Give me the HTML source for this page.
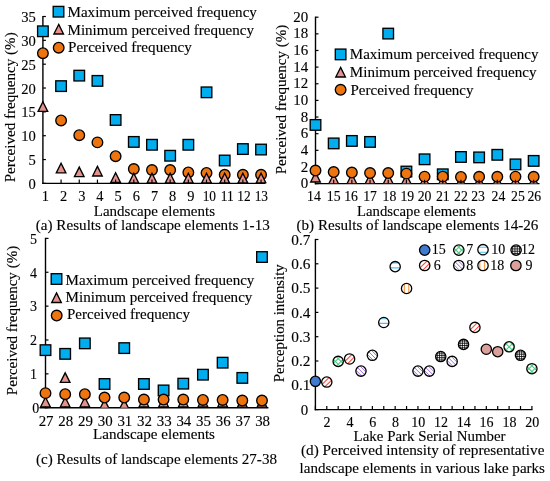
<!DOCTYPE html>
<html><head><meta charset="utf-8"><title>Perceived frequency of landscape elements</title>
<style>html,body{margin:0;padding:0;background:#fff}svg{display:block}text{font-family:"Liberation Serif","Times New Roman",serif;fill:#000;stroke:#000;stroke-width:.12px}</style>
</head><body>
<svg width="550" height="481" viewBox="0 0 550 481">
<rect width="550" height="481" fill="#fff"/>
<clipPath id="ca"><rect x="32.9" y="0" width="242.6" height="183.4"/></clipPath>
<path d="M42.9 15.9L42.9 184.1" stroke="#000" stroke-width="1.4" fill="none"/>
<path d="M42.199999999999996 183.4L265.5 183.4" stroke="#000" stroke-width="1.4" fill="none"/>
<path d="M42.9 183.4L45.9 183.4" stroke="#000" stroke-width="1.2" fill="none"/>
<text x="35.8" y="189.0" font-size="14.6" text-anchor="end">0</text>
<path d="M42.9 159.56L45.9 159.56" stroke="#000" stroke-width="1.2" fill="none"/>
<text x="35.8" y="165.16" font-size="14.6" text-anchor="end">5</text>
<path d="M42.9 135.71L45.9 135.71" stroke="#000" stroke-width="1.2" fill="none"/>
<text x="35.8" y="141.31" font-size="14.6" text-anchor="end">10</text>
<path d="M42.9 111.87L45.9 111.87" stroke="#000" stroke-width="1.2" fill="none"/>
<text x="35.8" y="117.47" font-size="14.6" text-anchor="end">15</text>
<path d="M42.9 88.03L45.9 88.03" stroke="#000" stroke-width="1.2" fill="none"/>
<text x="35.8" y="93.63" font-size="14.6" text-anchor="end">20</text>
<path d="M42.9 64.19L45.9 64.19" stroke="#000" stroke-width="1.2" fill="none"/>
<text x="35.8" y="69.79" font-size="14.6" text-anchor="end">25</text>
<path d="M42.9 40.34L45.9 40.34" stroke="#000" stroke-width="1.2" fill="none"/>
<text x="35.8" y="45.94" font-size="14.6" text-anchor="end">30</text>
<path d="M42.9 16.5L45.9 16.5" stroke="#000" stroke-width="1.2" fill="none"/>
<text x="35.8" y="22.1" font-size="14.6" text-anchor="end">35</text>
<text x="45.4" y="201.3" font-size="14.4" text-anchor="middle">1</text>
<text x="63.58" y="201.3" font-size="14.4" text-anchor="middle">2</text>
<text x="81.76" y="201.3" font-size="14.4" text-anchor="middle">3</text>
<text x="99.94" y="201.3" font-size="14.4" text-anchor="middle">4</text>
<text x="118.12" y="201.3" font-size="14.4" text-anchor="middle">5</text>
<text x="136.3" y="201.3" font-size="14.4" text-anchor="middle">6</text>
<text x="154.48" y="201.3" font-size="14.4" text-anchor="middle">7</text>
<text x="172.66" y="201.3" font-size="14.4" text-anchor="middle">8</text>
<text x="190.84" y="201.3" font-size="14.4" text-anchor="middle">9</text>
<text transform="translate(209.32 201.3) scale(0.93 1)" font-size="14.4" text-anchor="middle">10</text>
<text transform="translate(227.2 201.3) scale(0.93 1)" font-size="14.4" text-anchor="middle">11</text>
<text transform="translate(243.88 201.3) scale(0.93 1)" font-size="14.4" text-anchor="middle">12</text>
<text transform="translate(261.36 201.3) scale(0.93 1)" font-size="14.4" text-anchor="middle">13</text>
<g clip-path="url(#ca)">
<rect x="37.60" y="25.98" width="10.6" height="10.6" fill="#00AEEF" stroke="#000" stroke-width="1.35"/>
<rect x="55.78" y="80.82" width="10.6" height="10.6" fill="#00AEEF" stroke="#000" stroke-width="1.35"/>
<rect x="73.96" y="70.33" width="10.6" height="10.6" fill="#00AEEF" stroke="#000" stroke-width="1.35"/>
<rect x="92.14" y="75.58" width="10.6" height="10.6" fill="#00AEEF" stroke="#000" stroke-width="1.35"/>
<rect x="110.32" y="114.68" width="10.6" height="10.6" fill="#00AEEF" stroke="#000" stroke-width="1.35"/>
<rect x="128.50" y="136.61" width="10.6" height="10.6" fill="#00AEEF" stroke="#000" stroke-width="1.35"/>
<rect x="146.68" y="139.47" width="10.6" height="10.6" fill="#00AEEF" stroke="#000" stroke-width="1.35"/>
<rect x="164.86" y="150.44" width="10.6" height="10.6" fill="#00AEEF" stroke="#000" stroke-width="1.35"/>
<rect x="183.04" y="139.47" width="10.6" height="10.6" fill="#00AEEF" stroke="#000" stroke-width="1.35"/>
<rect x="201.22" y="87.02" width="10.6" height="10.6" fill="#00AEEF" stroke="#000" stroke-width="1.35"/>
<rect x="219.40" y="155.21" width="10.6" height="10.6" fill="#00AEEF" stroke="#000" stroke-width="1.35"/>
<rect x="237.58" y="143.77" width="10.6" height="10.6" fill="#00AEEF" stroke="#000" stroke-width="1.35"/>
<rect x="255.76" y="144.24" width="10.6" height="10.6" fill="#00AEEF" stroke="#000" stroke-width="1.35"/>
<circle cx="42.90" cy="53.22" r="5.3" fill="#EE7410" stroke="#000" stroke-width="1.35"/>
<circle cx="61.08" cy="120.45" r="5.3" fill="#EE7410" stroke="#000" stroke-width="1.35"/>
<circle cx="79.26" cy="135.24" r="5.3" fill="#EE7410" stroke="#000" stroke-width="1.35"/>
<circle cx="97.44" cy="142.39" r="5.3" fill="#EE7410" stroke="#000" stroke-width="1.35"/>
<circle cx="115.62" cy="156.22" r="5.3" fill="#EE7410" stroke="#000" stroke-width="1.35"/>
<circle cx="133.80" cy="169.09" r="5.3" fill="#EE7410" stroke="#000" stroke-width="1.35"/>
<circle cx="151.98" cy="170.05" r="5.3" fill="#EE7410" stroke="#000" stroke-width="1.35"/>
<circle cx="170.16" cy="170.05" r="5.3" fill="#EE7410" stroke="#000" stroke-width="1.35"/>
<circle cx="188.34" cy="172.43" r="5.3" fill="#EE7410" stroke="#000" stroke-width="1.35"/>
<circle cx="206.52" cy="172.91" r="5.3" fill="#EE7410" stroke="#000" stroke-width="1.35"/>
<circle cx="224.70" cy="174.82" r="5.3" fill="#EE7410" stroke="#000" stroke-width="1.35"/>
<circle cx="242.88" cy="174.82" r="5.3" fill="#EE7410" stroke="#000" stroke-width="1.35"/>
<circle cx="261.06" cy="174.82" r="5.3" fill="#EE7410" stroke="#000" stroke-width="1.35"/>
<path d="M42.90 101.75L47.70 111.35H38.10Z" fill="#E5928C" stroke="#000" stroke-width="1.35"/>
<path d="M61.08 163.26L65.88 172.86H56.28Z" fill="#E5928C" stroke="#000" stroke-width="1.35"/>
<path d="M79.26 167.08L84.06 176.68H74.46Z" fill="#E5928C" stroke="#000" stroke-width="1.35"/>
<path d="M97.44 166.36L102.24 175.96H92.64Z" fill="#E5928C" stroke="#000" stroke-width="1.35"/>
<path d="M115.62 172.80L120.42 182.40H110.82Z" fill="#E5928C" stroke="#000" stroke-width="1.35"/>
<path d="M133.80 173.28L138.60 182.88H129.00Z" fill="#E5928C" stroke="#000" stroke-width="1.35"/>
<path d="M151.98 173.28L156.78 182.88H147.18Z" fill="#E5928C" stroke="#000" stroke-width="1.35"/>
<path d="M170.16 173.28L174.96 182.88H165.36Z" fill="#E5928C" stroke="#000" stroke-width="1.35"/>
<path d="M188.34 173.28L193.14 182.88H183.54Z" fill="#E5928C" stroke="#000" stroke-width="1.35"/>
<path d="M206.52 173.28L211.32 182.88H201.72Z" fill="#E5928C" stroke="#000" stroke-width="1.35"/>
<path d="M224.70 173.28L229.50 182.88H219.90Z" fill="#E5928C" stroke="#000" stroke-width="1.35"/>
<path d="M242.88 173.28L247.68 182.88H238.08Z" fill="#E5928C" stroke="#000" stroke-width="1.35"/>
<path d="M261.06 173.28L265.86 182.88H256.26Z" fill="#E5928C" stroke="#000" stroke-width="1.35"/>
</g>
<path d="M61.08 183.4L61.08 179.6" stroke="#000" stroke-width="1.2" fill="none"/>
<path d="M79.26 183.4L79.26 179.6" stroke="#000" stroke-width="1.2" fill="none"/>
<path d="M97.44 183.4L97.44 179.6" stroke="#000" stroke-width="1.2" fill="none"/>
<path d="M115.62 183.4L115.62 179.6" stroke="#000" stroke-width="1.2" fill="none"/>
<path d="M133.8 183.4L133.8 179.6" stroke="#000" stroke-width="1.2" fill="none"/>
<path d="M151.98 183.4L151.98 179.6" stroke="#000" stroke-width="1.2" fill="none"/>
<path d="M170.16 183.4L170.16 179.6" stroke="#000" stroke-width="1.2" fill="none"/>
<path d="M188.34 183.4L188.34 179.6" stroke="#000" stroke-width="1.2" fill="none"/>
<path d="M206.52 183.4L206.52 179.6" stroke="#000" stroke-width="1.2" fill="none"/>
<path d="M224.7 183.4L224.7 179.6" stroke="#000" stroke-width="1.2" fill="none"/>
<path d="M242.88 183.4L242.88 179.6" stroke="#000" stroke-width="1.2" fill="none"/>
<path d="M261.06 183.4L261.06 179.6" stroke="#000" stroke-width="1.2" fill="none"/>
<rect x="53.20" y="6.40" width="10.6" height="10.6" fill="#00AEEF" stroke="#000" stroke-width="1.35"/>
<path d="M58.70 24.40L63.50 34.00H53.90Z" fill="#E5928C" stroke="#000" stroke-width="1.35"/>
<circle cx="58.70" cy="47.70" r="5.3" fill="#EE7410" stroke="#000" stroke-width="1.35"/>
<text x="67.5" y="17.1" font-size="14.5" textLength="189.4" lengthAdjust="spacingAndGlyphs">Maximum perceived frequency</text>
<text x="67.5" y="34.6" font-size="14.5" textLength="186.5" lengthAdjust="spacingAndGlyphs">Minimum perceived frequency</text>
<text x="68" y="52.1" font-size="14.5" textLength="123.7" lengthAdjust="spacingAndGlyphs">Perceived frequency</text>
<text transform="translate(15 107.3) rotate(-90)" font-size="14.6" text-anchor="middle" textLength="150" lengthAdjust="spacingAndGlyphs">Perceived frequency (%)</text>
<text x="154.4" y="215.8" font-size="14.5" text-anchor="middle" textLength="121.2" lengthAdjust="spacingAndGlyphs">Landscape elements</text>
<text x="35.8" y="230.4" font-size="14.5" textLength="234" lengthAdjust="spacingAndGlyphs">(a) Results of landscape elements 1-13</text>
<clipPath id="cb"><rect x="305.5" y="0" width="244.0" height="183.6"/></clipPath>
<path d="M315.5 16.599999999999998L315.5 184.29999999999998" stroke="#000" stroke-width="1.4" fill="none"/>
<path d="M314.8 183.6L539.5 183.6" stroke="#000" stroke-width="1.4" fill="none"/>
<path d="M315.5 183.6L318.5 183.6" stroke="#000" stroke-width="1.2" fill="none"/>
<text transform="translate(308.2 188.2) scale(1.07 1)" font-size="14" text-anchor="end">0</text>
<path d="M315.5 166.96L318.5 166.96" stroke="#000" stroke-width="1.2" fill="none"/>
<text transform="translate(308.2 171.56) scale(1.07 1)" font-size="14" text-anchor="end">2</text>
<path d="M315.5 150.32L318.5 150.32" stroke="#000" stroke-width="1.2" fill="none"/>
<text transform="translate(308.2 154.92) scale(1.07 1)" font-size="14" text-anchor="end">4</text>
<path d="M315.5 133.68L318.5 133.68" stroke="#000" stroke-width="1.2" fill="none"/>
<text transform="translate(308.2 138.28) scale(1.07 1)" font-size="14" text-anchor="end">6</text>
<path d="M315.5 117.04L318.5 117.04" stroke="#000" stroke-width="1.2" fill="none"/>
<text transform="translate(308.2 121.64) scale(1.07 1)" font-size="14" text-anchor="end">8</text>
<path d="M315.5 100.4L318.5 100.4" stroke="#000" stroke-width="1.2" fill="none"/>
<text transform="translate(308.2 105.0) scale(1.07 1)" font-size="14" text-anchor="end">10</text>
<path d="M315.5 83.76L318.5 83.76" stroke="#000" stroke-width="1.2" fill="none"/>
<text transform="translate(308.2 88.36) scale(1.07 1)" font-size="14" text-anchor="end">12</text>
<path d="M315.5 67.12L318.5 67.12" stroke="#000" stroke-width="1.2" fill="none"/>
<text transform="translate(308.2 71.72) scale(1.07 1)" font-size="14" text-anchor="end">14</text>
<path d="M315.5 50.48L318.5 50.48" stroke="#000" stroke-width="1.2" fill="none"/>
<text transform="translate(308.2 55.08) scale(1.07 1)" font-size="14" text-anchor="end">16</text>
<path d="M315.5 33.84L318.5 33.84" stroke="#000" stroke-width="1.2" fill="none"/>
<text transform="translate(308.2 38.44) scale(1.07 1)" font-size="14" text-anchor="end">18</text>
<path d="M315.5 17.2L318.5 17.2" stroke="#000" stroke-width="1.2" fill="none"/>
<text transform="translate(308.2 21.8) scale(1.07 1)" font-size="14" text-anchor="end">20</text>
<text transform="translate(314.0 201) scale(0.95 1)" font-size="14.5" text-anchor="middle">14</text>
<text transform="translate(333.68 201) scale(0.95 1)" font-size="14.5" text-anchor="middle">15</text>
<text transform="translate(351.06 201) scale(0.95 1)" font-size="14.5" text-anchor="middle">16</text>
<text transform="translate(370.04 201) scale(0.95 1)" font-size="14.5" text-anchor="middle">17</text>
<text transform="translate(389.42 201) scale(0.95 1)" font-size="14.5" text-anchor="middle">18</text>
<text transform="translate(407.3 201) scale(0.95 1)" font-size="14.5" text-anchor="middle">19</text>
<text transform="translate(424.58 201) scale(0.95 1)" font-size="14.5" text-anchor="middle">20</text>
<text transform="translate(442.76 201) scale(0.95 1)" font-size="14.5" text-anchor="middle">21</text>
<text transform="translate(460.94 201) scale(0.95 1)" font-size="14.5" text-anchor="middle">22</text>
<text transform="translate(478.02 201) scale(0.95 1)" font-size="14.5" text-anchor="middle">23</text>
<text transform="translate(498.4 201) scale(0.95 1)" font-size="14.5" text-anchor="middle">24</text>
<text transform="translate(517.98 201) scale(0.95 1)" font-size="14.5" text-anchor="middle">25</text>
<text transform="translate(534.36 201) scale(0.95 1)" font-size="14.5" text-anchor="middle">26</text>
<g clip-path="url(#cb)">
<rect x="310.20" y="119.64" width="10.6" height="10.6" fill="#00AEEF" stroke="#000" stroke-width="1.35"/>
<rect x="328.38" y="138.11" width="10.6" height="10.6" fill="#00AEEF" stroke="#000" stroke-width="1.35"/>
<rect x="346.56" y="135.62" width="10.6" height="10.6" fill="#00AEEF" stroke="#000" stroke-width="1.35"/>
<rect x="364.74" y="136.62" width="10.6" height="10.6" fill="#00AEEF" stroke="#000" stroke-width="1.35"/>
<rect x="382.92" y="28.29" width="10.6" height="10.6" fill="#00AEEF" stroke="#000" stroke-width="1.35"/>
<rect x="401.10" y="166.24" width="10.6" height="10.6" fill="#00AEEF" stroke="#000" stroke-width="1.35"/>
<rect x="419.28" y="154.01" width="10.6" height="10.6" fill="#00AEEF" stroke="#000" stroke-width="1.35"/>
<rect x="437.46" y="168.98" width="10.6" height="10.6" fill="#00AEEF" stroke="#000" stroke-width="1.35"/>
<rect x="455.64" y="151.68" width="10.6" height="10.6" fill="#00AEEF" stroke="#000" stroke-width="1.35"/>
<rect x="473.82" y="152.09" width="10.6" height="10.6" fill="#00AEEF" stroke="#000" stroke-width="1.35"/>
<rect x="492.00" y="149.51" width="10.6" height="10.6" fill="#00AEEF" stroke="#000" stroke-width="1.35"/>
<rect x="510.18" y="159.08" width="10.6" height="10.6" fill="#00AEEF" stroke="#000" stroke-width="1.35"/>
<rect x="528.36" y="155.59" width="10.6" height="10.6" fill="#00AEEF" stroke="#000" stroke-width="1.35"/>
<path d="M315.50 172.38L320.30 181.98H310.70Z" fill="#E5928C" stroke="#000" stroke-width="1.35"/>
<path d="M333.68 174.04L338.48 183.64H328.88Z" fill="#E5928C" stroke="#000" stroke-width="1.35"/>
<path d="M351.86 174.04L356.66 183.64H347.06Z" fill="#E5928C" stroke="#000" stroke-width="1.35"/>
<path d="M370.04 174.04L374.84 183.64H365.24Z" fill="#E5928C" stroke="#000" stroke-width="1.35"/>
<path d="M388.22 174.04L393.02 183.64H383.42Z" fill="#E5928C" stroke="#000" stroke-width="1.35"/>
<path d="M406.40 174.62L411.20 184.22H401.60Z" fill="#E5928C" stroke="#000" stroke-width="1.35"/>
<path d="M424.58 176.04L429.38 185.64H419.78Z" fill="#E5928C" stroke="#000" stroke-width="1.35"/>
<path d="M442.76 176.04L447.56 185.64H437.96Z" fill="#E5928C" stroke="#000" stroke-width="1.35"/>
<path d="M460.94 176.29L465.74 185.89H456.14Z" fill="#E5928C" stroke="#000" stroke-width="1.35"/>
<path d="M479.12 176.29L483.92 185.89H474.32Z" fill="#E5928C" stroke="#000" stroke-width="1.35"/>
<path d="M497.30 176.29L502.10 185.89H492.50Z" fill="#E5928C" stroke="#000" stroke-width="1.35"/>
<path d="M515.48 176.04L520.28 185.64H510.68Z" fill="#E5928C" stroke="#000" stroke-width="1.35"/>
<path d="M533.66 176.04L538.46 185.64H528.86Z" fill="#E5928C" stroke="#000" stroke-width="1.35"/>
<circle cx="315.50" cy="170.54" r="5.3" fill="#EE7410" stroke="#000" stroke-width="1.35"/>
<circle cx="333.68" cy="172.04" r="5.3" fill="#EE7410" stroke="#000" stroke-width="1.35"/>
<circle cx="351.86" cy="172.53" r="5.3" fill="#EE7410" stroke="#000" stroke-width="1.35"/>
<circle cx="370.04" cy="173.03" r="5.3" fill="#EE7410" stroke="#000" stroke-width="1.35"/>
<circle cx="388.22" cy="173.03" r="5.3" fill="#EE7410" stroke="#000" stroke-width="1.35"/>
<circle cx="406.40" cy="173.62" r="5.3" fill="#EE7410" stroke="#000" stroke-width="1.35"/>
<circle cx="424.58" cy="176.61" r="5.3" fill="#EE7410" stroke="#000" stroke-width="1.35"/>
<circle cx="442.76" cy="176.61" r="5.3" fill="#EE7410" stroke="#000" stroke-width="1.35"/>
<circle cx="460.94" cy="176.94" r="5.3" fill="#EE7410" stroke="#000" stroke-width="1.35"/>
<circle cx="479.12" cy="176.78" r="5.3" fill="#EE7410" stroke="#000" stroke-width="1.35"/>
<circle cx="497.30" cy="176.78" r="5.3" fill="#EE7410" stroke="#000" stroke-width="1.35"/>
<circle cx="515.48" cy="176.61" r="5.3" fill="#EE7410" stroke="#000" stroke-width="1.35"/>
<circle cx="533.66" cy="176.78" r="5.3" fill="#EE7410" stroke="#000" stroke-width="1.35"/>
</g>
<path d="M333.68 183.6L333.68 179.79999999999998" stroke="#000" stroke-width="1.2" fill="none"/>
<path d="M351.86 183.6L351.86 179.79999999999998" stroke="#000" stroke-width="1.2" fill="none"/>
<path d="M370.04 183.6L370.04 179.79999999999998" stroke="#000" stroke-width="1.2" fill="none"/>
<path d="M388.22 183.6L388.22 179.79999999999998" stroke="#000" stroke-width="1.2" fill="none"/>
<path d="M406.4 183.6L406.4 179.79999999999998" stroke="#000" stroke-width="1.2" fill="none"/>
<path d="M424.58 183.6L424.58 179.79999999999998" stroke="#000" stroke-width="1.2" fill="none"/>
<path d="M442.76 183.6L442.76 179.79999999999998" stroke="#000" stroke-width="1.2" fill="none"/>
<path d="M460.94 183.6L460.94 179.79999999999998" stroke="#000" stroke-width="1.2" fill="none"/>
<path d="M479.12 183.6L479.12 179.79999999999998" stroke="#000" stroke-width="1.2" fill="none"/>
<path d="M497.3 183.6L497.3 179.79999999999998" stroke="#000" stroke-width="1.2" fill="none"/>
<path d="M515.48 183.6L515.48 179.79999999999998" stroke="#000" stroke-width="1.2" fill="none"/>
<path d="M533.66 183.6L533.66 179.79999999999998" stroke="#000" stroke-width="1.2" fill="none"/>
<rect x="335.30" y="49.10" width="10.6" height="10.6" fill="#00AEEF" stroke="#000" stroke-width="1.35"/>
<path d="M340.60 67.40L345.40 77.00H335.80Z" fill="#E5928C" stroke="#000" stroke-width="1.35"/>
<circle cx="340.60" cy="89.80" r="5.3" fill="#EE7410" stroke="#000" stroke-width="1.35"/>
<text x="349.8" y="59.4" font-size="14.2" textLength="188.7" lengthAdjust="spacingAndGlyphs">Maximum perceived frequency</text>
<text x="349.8" y="77.2" font-size="14.2" textLength="186.7" lengthAdjust="spacingAndGlyphs">Minimum perceived frequency</text>
<text x="350.5" y="95" font-size="14.2" textLength="123" lengthAdjust="spacingAndGlyphs">Perceived frequency</text>
<text transform="translate(285.5 99.5) rotate(-90)" font-size="13.8" text-anchor="middle" textLength="149.6" lengthAdjust="spacingAndGlyphs">Perceived frequency (%)</text>
<text x="416.5" y="216.2" font-size="14.2" text-anchor="middle" textLength="119" lengthAdjust="spacingAndGlyphs">Landscape elements</text>
<text x="296.5" y="229.5" font-size="14" textLength="241.9" lengthAdjust="spacingAndGlyphs">(b) Results of landscape elements 14-26</text>
<clipPath id="cc"><rect x="35.5" y="0" width="242.89999999999998" height="407.7"/></clipPath>
<path d="M45.5 237.8L45.5 408.4" stroke="#000" stroke-width="1.4" fill="none"/>
<path d="M39.5 407.7L268.4 407.7" stroke="#000" stroke-width="1.4" fill="none"/>
<path d="M45.5 407.7L48.5 407.7" stroke="#000" stroke-width="1.2" fill="none"/>
<text x="39.2" y="413.0" font-size="14" text-anchor="end">0</text>
<path d="M45.5 373.84L48.5 373.84" stroke="#000" stroke-width="1.2" fill="none"/>
<text x="37" y="379.14" font-size="14" text-anchor="end">1</text>
<path d="M45.5 339.98L48.5 339.98" stroke="#000" stroke-width="1.2" fill="none"/>
<text x="37" y="345.28" font-size="14" text-anchor="end">2</text>
<path d="M45.5 306.12L48.5 306.12" stroke="#000" stroke-width="1.2" fill="none"/>
<text x="37" y="311.42" font-size="14" text-anchor="end">3</text>
<path d="M45.5 272.26L48.5 272.26" stroke="#000" stroke-width="1.2" fill="none"/>
<text x="37" y="277.56" font-size="14" text-anchor="end">4</text>
<path d="M45.5 238.4L48.5 238.4" stroke="#000" stroke-width="1.2" fill="none"/>
<text x="37" y="243.7" font-size="14" text-anchor="end">5</text>
<text transform="translate(46.1 425.6) scale(1.05 1)" font-size="14.2" text-anchor="middle">27</text>
<text transform="translate(65.78 425.6) scale(1.05 1)" font-size="14.2" text-anchor="middle">28</text>
<text transform="translate(85.46 425.6) scale(1.05 1)" font-size="14.2" text-anchor="middle">29</text>
<text transform="translate(105.14 425.6) scale(1.05 1)" font-size="14.2" text-anchor="middle">30</text>
<text transform="translate(124.82 425.6) scale(1.05 1)" font-size="14.2" text-anchor="middle">31</text>
<text transform="translate(144.5 425.6) scale(1.05 1)" font-size="14.2" text-anchor="middle">32</text>
<text transform="translate(164.18 425.6) scale(1.05 1)" font-size="14.2" text-anchor="middle">33</text>
<text transform="translate(183.86 425.6) scale(1.05 1)" font-size="14.2" text-anchor="middle">34</text>
<text transform="translate(203.54 425.6) scale(1.05 1)" font-size="14.2" text-anchor="middle">35</text>
<text transform="translate(223.22 425.6) scale(1.05 1)" font-size="14.2" text-anchor="middle">36</text>
<text transform="translate(242.9 425.6) scale(1.05 1)" font-size="14.2" text-anchor="middle">37</text>
<text transform="translate(262.58 425.6) scale(1.05 1)" font-size="14.2" text-anchor="middle">38</text>
<path d="M65.18 407.7L65.18 403.9" stroke="#000" stroke-width="1.2" fill="none"/>
<path d="M84.86 407.7L84.86 403.9" stroke="#000" stroke-width="1.2" fill="none"/>
<path d="M104.54 407.7L104.54 403.9" stroke="#000" stroke-width="1.2" fill="none"/>
<path d="M124.22 407.7L124.22 403.9" stroke="#000" stroke-width="1.2" fill="none"/>
<path d="M143.9 407.7L143.9 403.9" stroke="#000" stroke-width="1.2" fill="none"/>
<path d="M163.58 407.7L163.58 403.9" stroke="#000" stroke-width="1.2" fill="none"/>
<path d="M183.26 407.7L183.26 403.9" stroke="#000" stroke-width="1.2" fill="none"/>
<path d="M202.94 407.7L202.94 403.9" stroke="#000" stroke-width="1.2" fill="none"/>
<path d="M222.62 407.7L222.62 403.9" stroke="#000" stroke-width="1.2" fill="none"/>
<path d="M242.3 407.7L242.3 403.9" stroke="#000" stroke-width="1.2" fill="none"/>
<path d="M261.98 407.7L261.98 403.9" stroke="#000" stroke-width="1.2" fill="none"/>
<g clip-path="url(#cc)">
<rect x="40.20" y="344.84" width="10.6" height="10.6" fill="#00AEEF" stroke="#000" stroke-width="1.35"/>
<rect x="59.88" y="348.56" width="10.6" height="10.6" fill="#00AEEF" stroke="#000" stroke-width="1.35"/>
<rect x="79.56" y="338.07" width="10.6" height="10.6" fill="#00AEEF" stroke="#000" stroke-width="1.35"/>
<rect x="99.24" y="378.70" width="10.6" height="10.6" fill="#00AEEF" stroke="#000" stroke-width="1.35"/>
<rect x="118.92" y="342.81" width="10.6" height="10.6" fill="#00AEEF" stroke="#000" stroke-width="1.35"/>
<rect x="138.60" y="378.70" width="10.6" height="10.6" fill="#00AEEF" stroke="#000" stroke-width="1.35"/>
<rect x="158.28" y="385.13" width="10.6" height="10.6" fill="#00AEEF" stroke="#000" stroke-width="1.35"/>
<rect x="177.96" y="378.36" width="10.6" height="10.6" fill="#00AEEF" stroke="#000" stroke-width="1.35"/>
<rect x="197.64" y="369.39" width="10.6" height="10.6" fill="#00AEEF" stroke="#000" stroke-width="1.35"/>
<rect x="217.32" y="357.37" width="10.6" height="10.6" fill="#00AEEF" stroke="#000" stroke-width="1.35"/>
<rect x="237.00" y="372.60" width="10.6" height="10.6" fill="#00AEEF" stroke="#000" stroke-width="1.35"/>
<rect x="256.68" y="251.72" width="10.6" height="10.6" fill="#00AEEF" stroke="#000" stroke-width="1.35"/>
<path d="M45.50 397.21L50.30 406.81H40.70Z" fill="#E5928C" stroke="#000" stroke-width="1.35"/>
<path d="M65.18 397.21L69.98 406.81H60.38Z" fill="#E5928C" stroke="#000" stroke-width="1.35"/>
<path d="M84.86 397.21L89.66 406.81H80.06Z" fill="#E5928C" stroke="#000" stroke-width="1.35"/>
<path d="M104.54 399.58L109.34 409.18H99.74Z" fill="#E5928C" stroke="#000" stroke-width="1.35"/>
<path d="M124.22 399.58L129.02 409.18H119.42Z" fill="#E5928C" stroke="#000" stroke-width="1.35"/>
<path d="M143.90 397.21L148.70 406.81H139.10Z" fill="#E5928C" stroke="#000" stroke-width="1.35"/>
<path d="M163.58 397.21L168.38 406.81H158.78Z" fill="#E5928C" stroke="#000" stroke-width="1.35"/>
<path d="M183.26 397.21L188.06 406.81H178.46Z" fill="#E5928C" stroke="#000" stroke-width="1.35"/>
<path d="M202.94 397.21L207.74 406.81H198.14Z" fill="#E5928C" stroke="#000" stroke-width="1.35"/>
<path d="M222.62 397.21L227.42 406.81H217.82Z" fill="#E5928C" stroke="#000" stroke-width="1.35"/>
<path d="M242.30 397.54L247.10 407.14H237.50Z" fill="#E5928C" stroke="#000" stroke-width="1.35"/>
<path d="M261.98 397.54L266.78 407.14H257.18Z" fill="#E5928C" stroke="#000" stroke-width="1.35"/>
<path d="M65.18 372.83L69.98 382.43H60.38Z" fill="#E5928C" stroke="#000" stroke-width="1.35"/>
<circle cx="45.50" cy="393.14" r="5.3" fill="#EE7410" stroke="#000" stroke-width="1.35"/>
<circle cx="65.18" cy="394.16" r="5.3" fill="#EE7410" stroke="#000" stroke-width="1.35"/>
<circle cx="84.86" cy="394.16" r="5.3" fill="#EE7410" stroke="#000" stroke-width="1.35"/>
<circle cx="104.54" cy="397.54" r="5.3" fill="#EE7410" stroke="#000" stroke-width="1.35"/>
<circle cx="124.22" cy="397.54" r="5.3" fill="#EE7410" stroke="#000" stroke-width="1.35"/>
<circle cx="143.90" cy="399.57" r="5.3" fill="#EE7410" stroke="#000" stroke-width="1.35"/>
<circle cx="163.58" cy="399.57" r="5.3" fill="#EE7410" stroke="#000" stroke-width="1.35"/>
<circle cx="183.26" cy="399.57" r="5.3" fill="#EE7410" stroke="#000" stroke-width="1.35"/>
<circle cx="202.94" cy="399.91" r="5.3" fill="#EE7410" stroke="#000" stroke-width="1.35"/>
<circle cx="222.62" cy="399.91" r="5.3" fill="#EE7410" stroke="#000" stroke-width="1.35"/>
<circle cx="242.30" cy="400.59" r="5.3" fill="#EE7410" stroke="#000" stroke-width="1.35"/>
<circle cx="261.98" cy="400.59" r="5.3" fill="#EE7410" stroke="#000" stroke-width="1.35"/>
</g>
<rect x="51.20" y="273.70" width="10.6" height="10.6" fill="#00AEEF" stroke="#000" stroke-width="1.35"/>
<path d="M56.50 292.90L61.30 302.50H51.70Z" fill="#E5928C" stroke="#000" stroke-width="1.35"/>
<circle cx="56.70" cy="315.50" r="5.3" fill="#EE7410" stroke="#000" stroke-width="1.35"/>
<text x="65.6" y="284.6" font-size="14.3" textLength="188.8" lengthAdjust="spacingAndGlyphs">Maximum perceived frequency</text>
<text x="65.6" y="302.4" font-size="14.3" textLength="186.8" lengthAdjust="spacingAndGlyphs">Minimum perceived frequency</text>
<text x="67" y="319.4" font-size="14.3" textLength="123" lengthAdjust="spacingAndGlyphs">Perceived frequency</text>
<text transform="translate(17.4 320.5) rotate(-90)" font-size="14.5" text-anchor="middle" textLength="149.3" lengthAdjust="spacingAndGlyphs">Perceived frequency (%)</text>
<text x="154" y="439.2" font-size="14.5" text-anchor="middle" textLength="122" lengthAdjust="spacingAndGlyphs">Landscape elements</text>
<text x="36" y="464.4" font-size="14.8" textLength="241" lengthAdjust="spacingAndGlyphs">(c) Results of landscape elements 27-38</text>
<path d="M315.4 238.9L315.4 410.3" stroke="#000" stroke-width="1.4" fill="none"/>
<path d="M314.7 409.6L532.5 409.6" stroke="#000" stroke-width="1.4" fill="none"/>
<path d="M315.4 409.6L318.4 409.6" stroke="#000" stroke-width="1.2" fill="none"/>
<text transform="translate(308.2 414.7) scale(1.05 1)" font-size="14.2" text-anchor="end">0</text>
<path d="M315.4 385.3L318.4 385.3" stroke="#000" stroke-width="1.2" fill="none"/>
<text transform="translate(310.4 390.4) scale(1.08 1)" font-size="14.2" text-anchor="end">0.1</text>
<path d="M315.4 361.0L318.4 361.0" stroke="#000" stroke-width="1.2" fill="none"/>
<text transform="translate(310.4 366.1) scale(1.08 1)" font-size="14.2" text-anchor="end">0.2</text>
<path d="M315.4 336.7L318.4 336.7" stroke="#000" stroke-width="1.2" fill="none"/>
<text transform="translate(310.4 341.8) scale(1.08 1)" font-size="14.2" text-anchor="end">0.3</text>
<path d="M315.4 312.4L318.4 312.4" stroke="#000" stroke-width="1.2" fill="none"/>
<text transform="translate(310.4 317.5) scale(1.08 1)" font-size="14.2" text-anchor="end">0.4</text>
<path d="M315.4 288.1L318.4 288.1" stroke="#000" stroke-width="1.2" fill="none"/>
<text transform="translate(310.4 293.2) scale(1.08 1)" font-size="14.2" text-anchor="end">0.5</text>
<path d="M315.4 263.8L318.4 263.8" stroke="#000" stroke-width="1.2" fill="none"/>
<text transform="translate(310.4 268.9) scale(1.08 1)" font-size="14.2" text-anchor="end">0.6</text>
<path d="M315.4 239.5L318.4 239.5" stroke="#000" stroke-width="1.2" fill="none"/>
<text transform="translate(310.4 244.6) scale(1.08 1)" font-size="14.2" text-anchor="end">0.7</text>
<path d="M315.4 409.6L315.4 406.0" stroke="#000" stroke-width="1.2" fill="none"/>
<path d="M326.79 409.6L326.79 406.0" stroke="#000" stroke-width="1.2" fill="none"/>
<text x="327.09" y="427" font-size="14" text-anchor="middle">2</text>
<path d="M338.19 409.6L338.19 406.0" stroke="#000" stroke-width="1.2" fill="none"/>
<path d="M349.58 409.6L349.58 406.0" stroke="#000" stroke-width="1.2" fill="none"/>
<text x="349.88" y="427" font-size="14" text-anchor="middle">4</text>
<path d="M360.98 409.6L360.98 406.0" stroke="#000" stroke-width="1.2" fill="none"/>
<path d="M372.37 409.6L372.37 406.0" stroke="#000" stroke-width="1.2" fill="none"/>
<text x="372.67" y="427" font-size="14" text-anchor="middle">6</text>
<path d="M383.77 409.6L383.77 406.0" stroke="#000" stroke-width="1.2" fill="none"/>
<path d="M395.16 409.6L395.16 406.0" stroke="#000" stroke-width="1.2" fill="none"/>
<text x="395.46" y="427" font-size="14" text-anchor="middle">8</text>
<path d="M406.56 409.6L406.56 406.0" stroke="#000" stroke-width="1.2" fill="none"/>
<path d="M417.95 409.6L417.95 406.0" stroke="#000" stroke-width="1.2" fill="none"/>
<text x="418.25" y="427" font-size="14" text-anchor="middle">10</text>
<path d="M429.35 409.6L429.35 406.0" stroke="#000" stroke-width="1.2" fill="none"/>
<path d="M440.74 409.6L440.74 406.0" stroke="#000" stroke-width="1.2" fill="none"/>
<text x="441.04" y="427" font-size="14" text-anchor="middle">12</text>
<path d="M452.14 409.6L452.14 406.0" stroke="#000" stroke-width="1.2" fill="none"/>
<path d="M463.53 409.6L463.53 406.0" stroke="#000" stroke-width="1.2" fill="none"/>
<text x="463.83" y="427" font-size="14" text-anchor="middle">14</text>
<path d="M474.93 409.6L474.93 406.0" stroke="#000" stroke-width="1.2" fill="none"/>
<path d="M486.32 409.6L486.32 406.0" stroke="#000" stroke-width="1.2" fill="none"/>
<text x="486.62" y="427" font-size="14" text-anchor="middle">16</text>
<path d="M497.72 409.6L497.72 406.0" stroke="#000" stroke-width="1.2" fill="none"/>
<path d="M509.11 409.6L509.11 406.0" stroke="#000" stroke-width="1.2" fill="none"/>
<text x="509.41" y="427" font-size="14" text-anchor="middle">18</text>
<path d="M520.51 409.6L520.51 406.0" stroke="#000" stroke-width="1.2" fill="none"/>
<path d="M531.9 409.6L531.9 406.0" stroke="#000" stroke-width="1.2" fill="none"/>
<text x="532.2" y="427" font-size="14" text-anchor="middle">20</text>
<circle cx="315.40" cy="381.33" r="5.15" fill="#3F7AD1"/>
<circle cx="315.40" cy="381.33" r="5.15" fill="none" stroke="#000" stroke-width="1.3"/>
<circle cx="326.79" cy="382.06" r="5.15" fill="#fff"/>
<path d="M322.35 384.24L328.98 377.61M325.01 386.67L331.41 380.27" stroke="#FF4438" stroke-width="1.05" fill="none"/>
<circle cx="326.79" cy="382.06" r="5.15" fill="none" stroke="#000" stroke-width="1.3"/>
<circle cx="338.19" cy="361.40" r="5.15" fill="#fff"/>
<path d="M336.40 356.78L342.81 363.19M333.57 359.61L339.98 366.02" stroke="#4CCB80" stroke-width="1.1" fill="none"/>
<path d="M333.57 363.19L339.98 356.78M336.40 366.02L342.81 359.61" stroke="#4CCB80" stroke-width="1.1" fill="none"/>
<circle cx="338.19" cy="361.40" r="5.15" fill="none" stroke="#000" stroke-width="1.3"/>
<circle cx="349.58" cy="358.97" r="5.15" fill="#fff"/>
<path d="M345.14 361.15L351.77 354.53M347.80 363.59L354.20 357.18" stroke="#FF4438" stroke-width="1.05" fill="none"/>
<circle cx="349.58" cy="358.97" r="5.15" fill="none" stroke="#000" stroke-width="1.3"/>
<circle cx="360.98" cy="371.12" r="5.15" fill="#fff"/>
<path d="M360.19 366.23L365.87 371.91M357.48 367.62L364.48 374.62M356.09 370.33L361.76 376.01" stroke="#8E55DA" stroke-width="0.85" fill="none"/>
<circle cx="360.98" cy="371.12" r="5.15" fill="none" stroke="#000" stroke-width="1.3"/>
<circle cx="372.37" cy="355.32" r="5.15" fill="#fff"/>
<path d="M371.59 350.44L377.26 356.11M368.87 351.82L375.87 358.83M367.49 354.54L373.16 360.21" stroke="#8E55DA" stroke-width="0.85" fill="none"/>
<circle cx="372.37" cy="355.32" r="5.15" fill="none" stroke="#000" stroke-width="1.3"/>
<circle cx="383.77" cy="322.52" r="5.15" fill="#fff"/>
<path d="M380.60 318.72L386.94 318.72M378.88 323.32L388.65 323.32" stroke="#45C3F5" stroke-width="1.15" fill="none"/>
<circle cx="383.77" cy="322.52" r="5.15" fill="none" stroke="#000" stroke-width="1.3"/>
<circle cx="395.16" cy="266.63" r="5.15" fill="#fff"/>
<path d="M391.99 262.83L398.34 262.83M390.36 267.83L399.97 267.83" stroke="#45C3F5" stroke-width="1.15" fill="none"/>
<circle cx="395.16" cy="266.63" r="5.15" fill="none" stroke="#000" stroke-width="1.3"/>
<circle cx="406.56" cy="288.50" r="5.15" fill="#fff"/>
<path d="M408.76 284.07L408.76 292.93M404.36 284.07L404.36 292.93" stroke="#F5A050" stroke-width="1.25" fill="none"/>
<circle cx="406.56" cy="288.50" r="5.15" fill="none" stroke="#000" stroke-width="1.3"/>
<circle cx="417.95" cy="371.12" r="5.15" fill="#fff"/>
<path d="M417.17 366.23L422.84 371.91M414.45 367.62L421.45 374.62M413.07 370.33L418.74 376.01" stroke="#8E55DA" stroke-width="0.85" fill="none"/>
<circle cx="417.95" cy="371.12" r="5.15" fill="none" stroke="#000" stroke-width="1.3"/>
<circle cx="429.35" cy="371.12" r="5.15" fill="#fff"/>
<path d="M428.56 366.23L434.23 371.91M425.85 367.62L432.85 374.62M424.46 370.33L430.13 376.01" stroke="#8E55DA" stroke-width="0.85" fill="none"/>
<circle cx="429.35" cy="371.12" r="5.15" fill="none" stroke="#000" stroke-width="1.3"/>
<circle cx="440.74" cy="356.54" r="5.15" fill="#fff"/>
<path d="M437.19 353.09L444.29 353.09M435.93 355.39L445.56 355.39M435.93 357.69L445.56 357.69M437.19 359.99L444.29 359.99" stroke="#000" stroke-width="0.8" fill="none"/>
<path d="M444.19 352.99L444.19 360.09M441.89 351.73L441.89 361.35M439.59 351.73L439.59 361.35M437.29 352.99L437.29 360.09" stroke="#000" stroke-width="0.8" fill="none"/>
<circle cx="440.74" cy="356.54" r="5.15" fill="none" stroke="#000" stroke-width="1.3"/>
<circle cx="452.14" cy="361.40" r="5.15" fill="#fff"/>
<path d="M451.35 356.51L457.02 362.19M448.64 357.90L455.64 364.90M447.25 360.61L452.92 366.29" stroke="#8E55DA" stroke-width="0.85" fill="none"/>
<circle cx="452.14" cy="361.40" r="5.15" fill="none" stroke="#000" stroke-width="1.3"/>
<circle cx="463.53" cy="344.39" r="5.15" fill="#fff"/>
<path d="M459.98 340.94L467.08 340.94M458.72 343.24L468.35 343.24M458.72 345.54L468.35 345.54M459.98 347.84L467.08 347.84" stroke="#000" stroke-width="0.8" fill="none"/>
<path d="M466.98 340.84L466.98 347.94M464.68 339.58L464.68 349.20M462.38 339.58L462.38 349.20M460.08 340.84L460.08 347.94" stroke="#000" stroke-width="0.8" fill="none"/>
<circle cx="463.53" cy="344.39" r="5.15" fill="none" stroke="#000" stroke-width="1.3"/>
<circle cx="474.93" cy="327.38" r="5.15" fill="#fff"/>
<path d="M470.48 329.56L477.11 322.94M473.14 332.00L479.54 325.59" stroke="#FF4438" stroke-width="1.05" fill="none"/>
<circle cx="474.93" cy="327.38" r="5.15" fill="none" stroke="#000" stroke-width="1.3"/>
<circle cx="486.32" cy="349.25" r="5.15" fill="#DBA09B"/>
<circle cx="486.32" cy="349.25" r="5.15" fill="none" stroke="#000" stroke-width="1.3"/>
<circle cx="497.72" cy="351.68" r="5.15" fill="#DBA09B"/>
<circle cx="497.72" cy="351.68" r="5.15" fill="none" stroke="#000" stroke-width="1.3"/>
<circle cx="509.11" cy="346.82" r="5.15" fill="#fff"/>
<path d="M509.88 341.93L514.00 346.05M505.61 343.32L512.61 350.32M504.22 347.59L508.34 351.71" stroke="#4CCB80" stroke-width="1.1" fill="none"/>
<path d="M504.22 346.05L508.34 341.93M505.61 350.32L512.61 343.32M509.88 351.71L514.00 347.59" stroke="#4CCB80" stroke-width="1.1" fill="none"/>
<circle cx="509.11" cy="346.82" r="5.15" fill="none" stroke="#000" stroke-width="1.3"/>
<circle cx="520.51" cy="355.32" r="5.15" fill="#fff"/>
<path d="M516.96 351.88L524.05 351.88M515.69 354.18L525.32 354.18M515.69 356.47L525.32 356.47M516.96 358.77L524.05 358.77" stroke="#000" stroke-width="0.8" fill="none"/>
<path d="M523.96 351.78L523.96 358.87M521.66 350.51L521.66 360.14M519.36 350.51L519.36 360.14M517.06 351.78L517.06 358.87" stroke="#000" stroke-width="0.8" fill="none"/>
<circle cx="520.51" cy="355.32" r="5.15" fill="none" stroke="#000" stroke-width="1.3"/>
<circle cx="531.90" cy="368.69" r="5.15" fill="#fff"/>
<path d="M530.11 364.07L536.52 370.48M527.28 366.90L533.69 373.31" stroke="#4CCB80" stroke-width="1.1" fill="none"/>
<path d="M527.28 370.48L533.69 364.07M530.11 373.31L536.52 366.90" stroke="#4CCB80" stroke-width="1.1" fill="none"/>
<circle cx="531.90" cy="368.69" r="5.15" fill="none" stroke="#000" stroke-width="1.3"/>
<circle cx="424.70" cy="250.10" r="5.2" fill="#3F7AD1"/>
<circle cx="424.70" cy="250.10" r="5.2" fill="none" stroke="#000" stroke-width="1.3"/>
<text x="445.8" y="254.3" font-size="14" text-anchor="end">15</text>
<circle cx="458.80" cy="250.10" r="5.2" fill="#fff"/>
<path d="M456.97 245.45L463.45 251.93M454.15 248.27L460.63 254.75" stroke="#4CCB80" stroke-width="1.1" fill="none"/>
<path d="M454.15 251.93L460.63 245.45M456.97 254.75L463.45 248.27" stroke="#4CCB80" stroke-width="1.1" fill="none"/>
<circle cx="458.80" cy="250.10" r="5.2" fill="none" stroke="#000" stroke-width="1.3"/>
<text x="473.2" y="254.3" font-size="14" text-anchor="end">7</text>
<circle cx="483.00" cy="249.70" r="5.2" fill="#fff"/>
<path d="M478.67 247.20L487.33 247.20M478.67 252.20L487.33 252.20" stroke="#45C3F5" stroke-width="1.15" fill="none"/>
<circle cx="483.00" cy="249.70" r="5.2" fill="none" stroke="#000" stroke-width="1.3"/>
<text x="505.2" y="253.9" font-size="14" text-anchor="end">10</text>
<circle cx="516.10" cy="250.10" r="5.2" fill="#fff"/>
<path d="M512.48 246.65L519.72 246.65M511.23 248.95L520.97 248.95M511.23 251.25L520.97 251.25M512.48 253.55L519.72 253.55" stroke="#000" stroke-width="0.8" fill="none"/>
<path d="M519.55 246.48L519.55 253.72M517.25 245.23L517.25 254.97M514.95 245.23L514.95 254.97M512.65 246.48L512.65 253.72" stroke="#000" stroke-width="0.8" fill="none"/>
<circle cx="516.10" cy="250.10" r="5.2" fill="none" stroke="#000" stroke-width="1.3"/>
<text x="535.1" y="254.3" font-size="14" text-anchor="end">12</text>
<circle cx="424.70" cy="265.50" r="5.2" fill="#fff"/>
<path d="M420.22 267.72L426.92 261.02M422.87 270.15L429.35 263.67" stroke="#FF4438" stroke-width="1.05" fill="none"/>
<circle cx="424.70" cy="265.50" r="5.2" fill="none" stroke="#000" stroke-width="1.3"/>
<text x="440.8" y="269.7" font-size="14" text-anchor="end">6</text>
<circle cx="458.80" cy="265.50" r="5.2" fill="#fff"/>
<path d="M457.97 260.57L463.73 266.33M455.26 261.96L462.34 269.04M453.87 264.67L459.63 270.43" stroke="#8E55DA" stroke-width="0.85" fill="none"/>
<circle cx="458.80" cy="265.50" r="5.2" fill="none" stroke="#000" stroke-width="1.3"/>
<text x="473.2" y="269.7" font-size="14" text-anchor="end">8</text>
<circle cx="483.00" cy="265.50" r="5.2" fill="#fff"/>
<path d="M484.50 260.73L484.50 270.27M479.80 261.66L479.80 269.34" stroke="#F5A050" stroke-width="1.25" fill="none"/>
<circle cx="483.00" cy="265.50" r="5.2" fill="none" stroke="#000" stroke-width="1.3"/>
<text x="504.3" y="269.7" font-size="14" text-anchor="end">18</text>
<circle cx="515.90" cy="265.50" r="5.2" fill="#DBA09B"/>
<circle cx="515.90" cy="265.50" r="5.2" fill="none" stroke="#000" stroke-width="1.3"/>
<text x="532.6" y="269.7" font-size="14" text-anchor="end">9</text>
<text transform="translate(283.8 323.3) rotate(-90)" font-size="14.3" text-anchor="middle" textLength="118" lengthAdjust="spacingAndGlyphs">Perception intensity</text>
<text x="429.6" y="441" font-size="14.5" text-anchor="middle" textLength="152" lengthAdjust="spacingAndGlyphs">Lake Park Serial Number</text>
<text x="301" y="455.2" font-size="14.5" textLength="243.4" lengthAdjust="spacingAndGlyphs">(d) Perceived intensity of representative</text>
<text x="299.6" y="473" font-size="14.5" textLength="245.4" lengthAdjust="spacingAndGlyphs">landscape elements in various lake parks</text>
</svg>
</body></html>
